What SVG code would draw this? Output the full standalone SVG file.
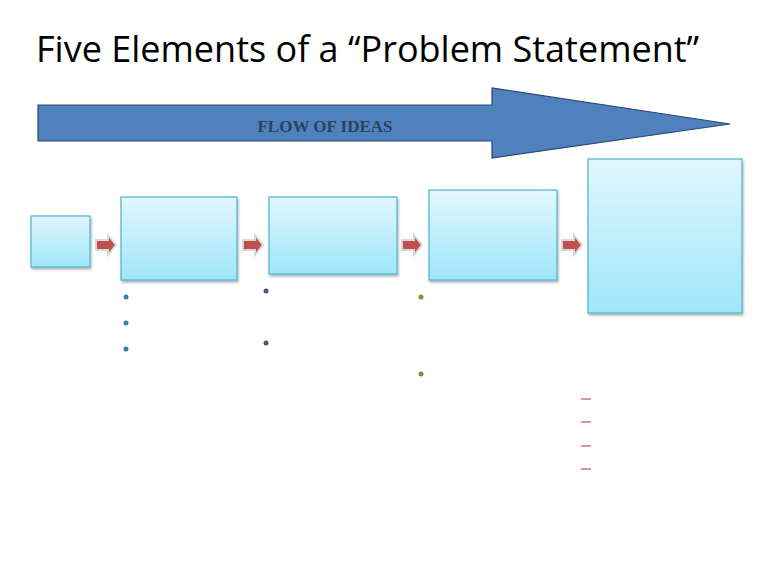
<svg xmlns="http://www.w3.org/2000/svg" width="768" height="576" viewBox="0 0 768 576">
<defs>
<linearGradient id="g" x1="0" y1="0" x2="0" y2="1"><stop offset="0" stop-color="#e2f7fd"/><stop offset="1" stop-color="#9fe6fb"/></linearGradient>
<filter id="sh" x="-10%" y="-10%" width="130%" height="130%"><feDropShadow dx="1" dy="2" stdDeviation="1.2" flood-color="#000" flood-opacity="0.3"/></filter>
<style>
.box{fill:url(#g);stroke:#4bb4cf;stroke-width:1.2;filter:url(#sh)}
.sa{fill:#c0504d;stroke:#d9d9d9;stroke-width:2}
.t{font-family:"Open Sans","Liberation Sans",sans-serif}
</style>
</defs>
<text class="t" x="36" y="62" font-size="36" fill="#000">Five Elements of a “Problem Statement”</text>
<g id="flow">
<polygon points="38,105 492,105 492,88 730,124 492,158 492,141 38,141" fill="#4f81bd" stroke="#2c4a6e" stroke-width="1.2"/>
<text x="325" y="132" font-family="Liberation Serif,serif" font-weight="bold" font-size="17" fill="#2c4060" text-anchor="middle">FLOW OF IDEAS</text>
</g>
<g id="n1"><rect class="box" x="31" y="216" width="59" height="51"/></g>
<g id="n2"><rect class="box" x="121" y="197" width="116" height="83"/></g>
<g id="n3"><rect class="box" x="269" y="197" width="128" height="77"/></g>
<g id="n4"><rect class="box" x="429" y="190" width="128" height="90"/></g>
<g id="n5"><rect class="box" x="588" y="159" width="154" height="154"/></g>
<g id="connectors">
<polygon class="sa" points="96,240 108,240 108,235 116,245 108,255 108,250 96,250"/>
<polygon class="sa" points="243,240 255,240 255,235 263,245 255,255 255,250 243,250"/>
<polygon class="sa" points="402,240 414,240 414,235 422,245 414,255 414,250 402,250"/>
<polygon class="sa" points="562,240 574,240 574,235 582,245 574,255 574,250 562,250"/>
</g>
<g id="bullets">
<circle cx="126" cy="297" r="2.5" fill="#31859c"/><circle cx="126" cy="323" r="2.5" fill="#31859c"/><circle cx="126" cy="349" r="2.5" fill="#31859c"/>
<circle cx="266" cy="291" r="2.5" fill="#604a7b"/><circle cx="266" cy="343" r="2.5" fill="#604a7b"/>
<circle cx="421" cy="297" r="2.5" fill="#77933c"/><circle cx="421" cy="374" r="2.5" fill="#77933c"/>
<g stroke="#c0504d" stroke-width="1.2"><line x1="581" y1="399" x2="591" y2="399"/><line x1="581" y1="422" x2="591" y2="422"/><line x1="581" y1="446" x2="591" y2="446"/><line x1="581" y1="469" x2="591" y2="469"/></g>
</g>
</svg>
